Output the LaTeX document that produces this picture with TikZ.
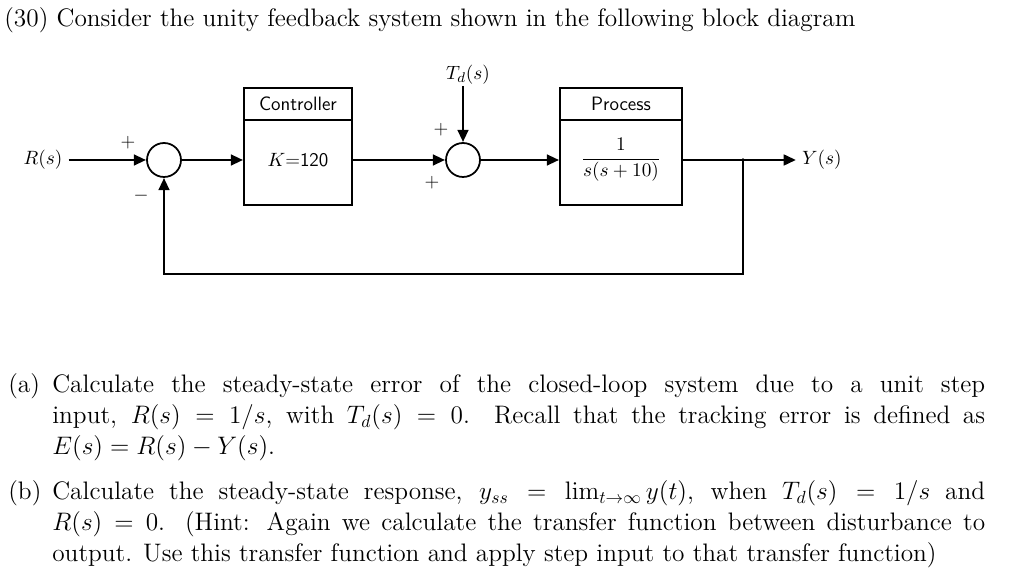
\documentclass[tikz,border=0pt]{standalone}
\usepackage{amsmath}
\usetikzlibrary{arrows.meta}
\begin{document}
\begin{tikzpicture}[x=0.02cm,y=-0.02cm,
  blk/.style={draw,line width=1pt,minimum width=2.16cm,minimum height=2.34cm,inner sep=0},
  sumj/.style={draw,line width=1pt,circle,minimum size=0.68cm,inner sep=0},
  sig/.style={line width=1.6pt,-{Triangle[length=7pt,width=6pt]}},
  lbl/.style={font=\sffamily\fontsize{11}{13}\selectfont},
  body/.style={font=\fontsize{14.4}{17.6}\selectfont,inner sep=0}]
\useasboundingbox (0,0) rectangle (1024,573);
\node[body,anchor=base west] (title) at (4,27) {(30) Consider the unity feedback system shown in the following block diagram};
% blocks
\node[blk] (ctrl) at (298,146.5) {};
\draw[line width=1pt] (244,120) -- (352,120);
\node[lbl] (ctrlt) at (298,104) {Controller};
\node[lbl] (ctrlk) at (298,160) {$K$=120};
\node[blk,minimum width=2.44cm] (proc) at (621,146.5) {};
\draw[line width=1pt] (560,120) -- (682,120);
\node[lbl] (proct) at (621,104) {Process};
\node[lbl] (procf) at (621,160) {$\dfrac{1}{s(s+10)}$};
\node[sumj] (s1) at (164,160) {};
\node[sumj] (s2) at (463,160) {};
\node[lbl] (R) at (43,160) {$R(s)$};
\node[lbl,anchor=west] (Y) at (796,160) {$Y(s)$};
\node[lbl] (Td) at (468,75) {$T_d(s)$};
\coordinate (tdtop) at (463,86);
\coordinate (br) at (743,160);
\coordinate (c1) at (743,274);
\coordinate (c2) at (164,274);
\draw[sig] (R) -- (s1);
\draw[sig] (s1) -- (s1 -| ctrl.west);
\draw[sig] (s1 -| ctrl.east) -- (s2);
\draw[sig] (s2) -- (s2 -| proc.west);
\draw[sig] (s2 -| proc.east) -- (Y);
\draw[sig] (tdtop) -- (s2);
\draw[sig] (br) -- (c1) -- (c2) -- (s1);
\fill (br) circle (1.8);
\node[lbl] (p1) at (128,143) {+};
\node[lbl] (m1) at (141,196) {$-$};
\node[lbl] (p2) at (441,130) {+};
\node[lbl] (p3) at (432,183) {+};
% text
\node[body,anchor=north west,text width=0.8cm] (la) at (8,371) {\strut(a)};
\node[body,anchor=north west,text width=18.66cm,align=justify] (ta) at (52,371)
 {\strut Calculate the steady-state error of the closed-loop system due to a unit step\linebreak
 input, $R(s)=1/s$, with $T_d(s)=0$. Recall that the tracking error is defined as\linebreak
 $E(s)=R(s)-Y(s)$.};
\node[body,anchor=north west,text width=0.8cm] (lb) at (8,478) {\strut(b)};
\node[body,anchor=north west,text width=18.66cm,align=justify] (tb) at (52,478)
 {\strut Calculate the steady-state response, $y_{ss}=\lim_{t\to\infty}y(t)$, when $T_d(s)=1/s$ and\linebreak
 $R(s)=0$. (Hint: Again we calculate the transfer function between disturbance to\linebreak
 output. Use this transfer function and apply step input to that transfer function)};
\end{tikzpicture}
\end{document}
